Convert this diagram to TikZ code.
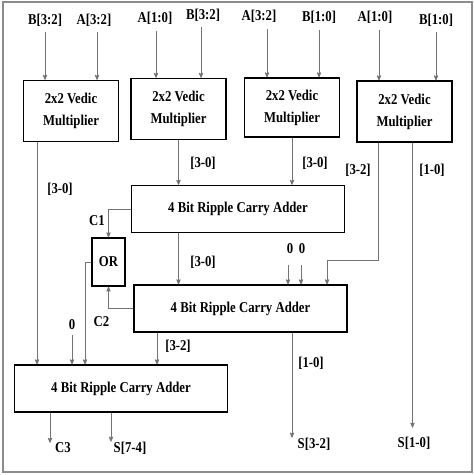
\documentclass[tikz,border=0pt]{standalone}
\usepackage{fontspec}
\setmainfont[FakeStretch=0.85]{Liberation Serif}
\usetikzlibrary{arrows,positioning}
\tikzset{mult box/.style={rectangle,draw=black,line width=1.4pt,minimum width=95pt,minimum height=61pt,inner sep=0pt,align=center,font=\fontsize{15}{22}\selectfont\bfseries},
         adder box/.style={rectangle,draw=black,line width=1.4pt,minimum width=213pt,minimum height=47pt,inner sep=0pt,font=\fontsize{15}{17}\selectfont\bfseries},
         or box/.style={rectangle,draw=black,line width=1.4pt,minimum width=33pt,minimum height=48pt,inner sep=0pt,font=\fontsize{15}{17}\selectfont\bfseries},
         sig label/.style={inner sep=0pt,font=\fontsize{15}{17}\selectfont\bfseries},
         sig/.style={draw=black!55,line width=0.8pt},
         in arrow/.style={sig,->,shorten <=6pt},
}

\begin{document}
\begin{tikzpicture}[>=stealth', x=1pt, y=-1pt]

\useasboundingbox (0,0) rectangle (474,475);
\draw[black!45,line width=2pt] (3,1.5) rectangle (472,472);

% multipliers
\node[mult box] (mult1) at (71,111) {2x2 Vedic\\Multiplier};
\node[mult box] (mult2) at (178.5,109) {2x2 Vedic\\Multiplier};
\node[mult box, minimum height=59pt] (mult3) at (292,107.5) {2x2 Vedic\\Multiplier};
\node[mult box] (mult4) at (404.5,111.5) {2x2 Vedic\\Multiplier};

% adders and OR
\node[adder box] (add1) at (238,209) {4 Bit Ripple Carry Adder};
\node[adder box] (add2) at (240.5,308.5) {4 Bit Ripple Carry Adder};
\node[adder box] (add3) at (121,388.5) {4 Bit Ripple Carry Adder};
\node[or box] (or) at (108.5,262) {OR};

% inputs
\node[sig label] (b32a) at (45,20) {B[3:2]};
\node[sig label] (a32a) at (94,20) {A[3:2]};
\node[sig label] (a10a) at (155,18.5) {A[1:0]};
\node[sig label] (b32b) at (203,15) {B[3:2]};
\node[sig label] (a32b) at (259,16.5) {A[3:2]};
\node[sig label] (b10a) at (319,17.5) {B[1:0]};
\node[sig label] (a10b) at (375,17.5) {A[1:0]};
\node[sig label] (b10b) at (436,20) {B[1:0]};

\coordinate (a32a arr) at ([xshift=3pt]a32a.south);
\coordinate (a10a arr) at ([xshift=1pt]a10a.south);
\coordinate (b32b arr) at ([xshift=-2pt]b32b.south);
\coordinate (a32b arr) at ([xshift=8pt]a32b.south);
\coordinate (a10b arr) at ([xshift=4pt]a10b.south);

\draw[in arrow] (b32a.south) -- (b32a.south |- mult1.north);
\draw[in arrow] (a32a arr) -- (a32a arr |- mult1.north);
\draw[in arrow] (a10a arr) -- (a10a arr |- mult2.north);
\draw[in arrow] (b32b arr) -- (b32b arr |- mult2.north);
\draw[in arrow] (a32b arr) -- (a32b arr |- mult3.north);
\draw[in arrow] (b10a.south) -- (b10a.south |- mult3.north);
\draw[in arrow] (a10b arr) -- (a10b arr |- mult4.north);
\draw[in arrow] (b10b.south) -- (b10b.south |- mult4.north);

% multiplier outputs
\coordinate (m1o) at ([xshift=-34pt]mult1.south);
\coordinate (m4a) at ([xshift=-26.5pt]mult4.south);
\coordinate (m4b) at ([xshift=8pt]mult4.south);
\coordinate (kink) at (327,260);

\draw[sig,->] (m1o) -- (m1o |- add3.north);
\draw[sig,->] (mult2.south) -- (mult2.south |- add1.north);
\draw[sig,->] (mult3.south) -- (mult3.south |- add1.north);
\draw[sig,->] (m4a) |- (kink) -- (kink |- add2.north);

\node[sig label] (lm1) at (60,189) {[3-0]};
\node[sig label] (lm2) at (203,163) {[3-0]};
\node[sig label] (lm3) at (315,163) {[3-0]};
\node[sig label] (lm4a) at (358,170) {[3-2]};
\node[sig label] (lm4b) at (432,170) {[1-0]};

% carries
\draw[sig,->] (add1.west) -| (or.north);
\draw[sig,->] (add2.west) -| (or.south);
\coordinate (a3in2) at ([xshift=-36pt]add3.north);
\draw[sig,->] (or.west) -| (a3in2);
\node[sig label] (c1) at (97,221) {C1};
\node[sig label] (c2) at (101.5,322) {C2};

% adder chain
\draw[sig,->] (add1.south -| mult2.south) -- (mult2.south |- add2.north);
\node[sig label] (la1) at (203,262) {[3-0]};

\node[sig label] (zero1) at (290,249) {0};
\node[sig label] (zero2) at (302,249) {0};
\draw[sig,->,shorten <=11pt] ([xshift=-2pt]zero1.south) -- ([xshift=-2pt]zero1.south |- add2.north);
\draw[sig,->,shorten <=11pt] ([xshift=-1pt]zero2.south) -- ([xshift=-1pt]zero2.south |- add2.north);

\node[sig label] (zero3) at (72,325) {0};
\draw[sig,->,shorten <=5pt] (zero3.south) -- (zero3.south |- add3.north);

\coordinate (a2o1) at ([xshift=-83.5pt]add2.south);
\draw[sig,->] (a2o1) -- (a2o1 |- add3.north);
\node[sig label] (la2a) at (178,346) {[3-2]};
\node[sig label] (la2b) at (311,363) {[1-0]};

% outputs
\node[sig label] (c3) at (63,448) {C3};
\node[sig label] (s74) at (130,448) {S[7-4]};
\node[sig label] (s32) at (314,444) {S[3-2]};
\node[sig label] (s10) at (414,443) {S[1-0]};

\coordinate (a3o1) at ([xshift=-71pt]add3.south);
\coordinate (a3o2) at ([xshift=-10pt]add3.south);
\coordinate (a2o2) at (add2.south -| mult3.south);
\draw[sig,->] (a3o1) -- (a3o1 |- c3.north);
\draw[sig,->] (a3o2) -- (a3o2 |- s74.north);
\draw[sig,->] (a2o2) -- (a2o2 |- s32.north);
\draw[sig,->,shorten >=9pt] (m4b) -- (m4b |- s10.north);

\end{tikzpicture}
\end{document}
